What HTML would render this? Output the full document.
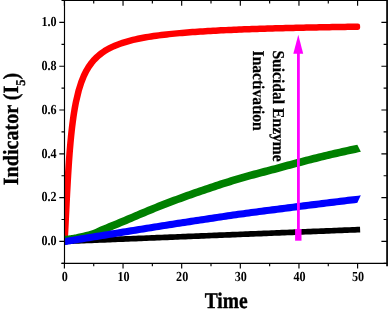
<!DOCTYPE html>
<html><head><meta charset="utf-8"><title>Indicator vs Time</title>
<style>
html,body{margin:0;padding:0;background:#fff;}
svg{display:block;}
text{font-family:"Liberation Serif","Times New Roman",serif;font-weight:bold;fill:#000;text-rendering:geometricPrecision;}
</style></head><body>
<svg width="388" height="315" viewBox="0 0 388 315">
<rect width="388" height="315" fill="#fff"/>
<defs><clipPath id="c"><rect x="64.70" y="0.45" width="322.70" height="262.90"/></clipPath></defs>
<g clip-path="url(#c)" stroke="none">
<path d="M64.29,238.55 L64.59,238.54 L64.89,238.53 L65.19,238.52 L65.49,238.50 L65.79,238.49 L66.09,238.48 L66.39,238.47 L66.69,238.46 L66.99,238.44 L67.29,238.43 L67.59,238.42 L67.89,238.41 L68.20,238.40 L68.50,238.38 L68.80,238.37 L69.10,238.36 L69.40,238.35 L69.70,238.34 L70.00,238.32 L70.30,238.31 L70.60,238.30 L70.90,238.29 L71.20,238.28 L71.50,238.26 L71.80,238.25 L72.10,238.24 L72.41,238.23 L72.71,238.22 L73.01,238.20 L73.31,238.19 L73.61,238.18 L73.91,238.17 L74.21,238.16 L74.51,238.14 L74.81,238.13 L75.11,238.12 L75.41,238.11 L75.71,238.10 L76.01,238.08 L78.62,237.98 L81.23,237.88 L83.83,237.77 L86.44,237.67 L89.04,237.56 L91.65,237.46 L94.25,237.35 L96.86,237.25 L99.46,237.15 L102.07,237.04 L104.67,236.94 L107.28,236.83 L109.88,236.73 L112.49,236.63 L115.10,236.52 L117.70,236.42 L120.31,236.31 L122.91,236.21 L125.52,236.11 L128.12,236.00 L130.73,235.90 L133.33,235.79 L135.94,235.69 L138.54,235.58 L141.15,235.48 L143.76,235.38 L146.36,235.27 L148.97,235.17 L151.57,235.06 L154.18,234.96 L156.78,234.86 L159.39,234.75 L161.99,234.65 L164.60,234.54 L167.20,234.44 L169.81,234.34 L172.42,234.23 L175.02,234.13 L177.63,234.02 L180.23,233.92 L182.84,233.81 L185.44,233.71 L188.05,233.61 L190.65,233.50 L193.26,233.40 L195.86,233.29 L198.47,233.19 L201.08,233.09 L203.68,232.98 L206.29,232.88 L208.89,232.77 L211.50,232.67 L214.10,232.57 L216.71,232.46 L219.31,232.36 L221.92,232.25 L224.52,232.15 L227.13,232.04 L229.74,231.94 L232.34,231.84 L234.95,231.73 L237.55,231.63 L240.16,231.52 L242.76,231.42 L245.37,231.32 L247.97,231.21 L250.58,231.11 L253.18,231.00 L255.79,230.90 L258.40,230.80 L261.00,230.69 L263.61,230.59 L266.21,230.48 L268.82,230.38 L271.42,230.27 L274.03,230.17 L276.63,230.07 L279.24,229.96 L281.84,229.86 L284.45,229.75 L287.06,229.65 L289.66,229.55 L292.27,229.44 L294.87,229.34 L297.48,229.23 L300.08,229.13 L302.69,229.03 L305.29,228.92 L307.90,228.82 L310.50,228.71 L313.11,228.61 L315.72,228.50 L318.32,228.40 L320.93,228.30 L323.53,228.19 L326.14,228.09 L328.74,227.98 L331.35,227.88 L333.95,227.78 L336.56,227.67 L339.16,227.57 L341.77,227.46 L344.38,227.36 L346.98,227.26 L349.59,227.15 L352.19,227.05 L354.80,226.94 L357.40,226.84 L360.01,226.74 L360.24,232.43 L357.63,232.53 L355.02,232.64 L352.42,232.74 L349.81,232.85 L347.21,232.95 L344.60,233.06 L342.00,233.16 L339.39,233.26 L336.79,233.37 L334.18,233.47 L331.58,233.58 L328.97,233.68 L326.36,233.78 L323.76,233.89 L321.15,233.99 L318.55,234.10 L315.94,234.20 L313.34,234.30 L310.73,234.41 L308.13,234.51 L305.52,234.62 L302.92,234.72 L300.31,234.83 L297.70,234.93 L295.10,235.03 L292.49,235.14 L289.89,235.24 L287.28,235.35 L284.68,235.45 L282.07,235.55 L279.47,235.66 L276.86,235.76 L274.26,235.87 L271.65,235.97 L269.04,236.07 L266.44,236.18 L263.83,236.28 L261.23,236.39 L258.62,236.49 L256.02,236.60 L253.41,236.70 L250.81,236.80 L248.20,236.91 L245.60,237.01 L242.99,237.12 L240.38,237.22 L237.78,237.32 L235.17,237.43 L232.57,237.53 L229.96,237.64 L227.36,237.74 L224.75,237.84 L222.15,237.95 L219.54,238.05 L216.94,238.16 L214.33,238.26 L211.72,238.37 L209.12,238.47 L206.51,238.57 L203.91,238.68 L201.30,238.78 L198.70,238.89 L196.09,238.99 L193.49,239.09 L190.88,239.20 L188.28,239.30 L185.67,239.41 L183.07,239.51 L180.46,239.61 L177.85,239.72 L175.25,239.82 L172.64,239.93 L170.04,240.03 L167.43,240.14 L164.83,240.24 L162.22,240.34 L159.62,240.45 L157.01,240.55 L154.41,240.66 L151.80,240.76 L149.19,240.86 L146.59,240.97 L143.98,241.07 L141.38,241.18 L138.77,241.28 L136.17,241.38 L133.56,241.49 L130.96,241.59 L128.35,241.70 L125.75,241.80 L123.14,241.90 L120.53,242.01 L117.93,242.11 L115.32,242.22 L112.72,242.32 L110.11,242.43 L107.51,242.53 L104.90,242.63 L102.30,242.74 L99.69,242.84 L97.09,242.95 L94.48,243.05 L91.87,243.15 L89.27,243.26 L86.66,243.36 L84.06,243.47 L81.45,243.57 L78.85,243.67 L76.24,243.78 L75.94,243.79 L75.64,243.80 L75.34,243.82 L75.04,243.83 L74.74,243.84 L74.44,243.85 L74.14,243.86 L73.84,243.88 L73.54,243.89 L73.23,243.90 L72.93,243.91 L72.63,243.92 L72.33,243.94 L72.03,243.95 L71.73,243.96 L71.43,243.97 L71.13,243.98 L70.83,244.00 L70.53,244.01 L70.23,244.02 L69.93,244.03 L69.63,244.04 L69.33,244.06 L69.02,244.07 L68.72,244.08 L68.42,244.09 L68.12,244.10 L67.82,244.12 L67.52,244.13 L67.22,244.14 L66.92,244.15 L66.62,244.16 L66.32,244.18 L66.02,244.19 L65.72,244.20 L65.42,244.21 L65.12,244.22 L64.81,244.24 L64.51,244.25Z" fill="#000"/>
<path d="M63.35,241.31 L63.65,237.72 L63.95,233.14 L64.25,227.86 L64.55,222.13 L64.85,216.15 L65.16,210.08 L65.46,204.02 L65.76,198.07 L66.06,192.27 L66.36,186.68 L66.66,181.31 L66.96,176.16 L67.26,171.26 L67.56,166.60 L67.86,162.16 L68.16,157.94 L68.47,153.94 L68.77,150.14 L69.07,146.54 L69.37,143.11 L69.67,139.85 L69.97,136.76 L70.27,133.81 L70.57,131.00 L70.87,128.33 L71.18,125.78 L71.48,123.34 L71.78,121.01 L72.08,118.79 L72.38,116.66 L72.68,114.62 L72.99,112.66 L73.29,110.78 L73.59,108.98 L73.89,107.25 L74.19,105.59 L74.50,103.98 L74.80,102.44 L75.11,100.93 L77.70,90.12 L80.31,81.86 L82.93,75.35 L85.55,70.09 L88.18,65.76 L90.81,62.12 L93.45,59.02 L96.09,56.36 L98.73,54.04 L101.37,52.01 L104.00,50.22 L106.63,48.62 L109.26,47.20 L111.88,45.91 L114.50,44.75 L117.12,43.69 L119.73,42.72 L122.34,41.84 L124.95,41.02 L127.56,40.27 L130.16,39.57 L132.76,38.93 L135.37,38.32 L137.97,37.76 L140.56,37.24 L143.16,36.74 L145.76,36.28 L148.35,35.84 L150.95,35.43 L153.54,35.04 L156.14,34.67 L158.73,34.33 L161.32,33.99 L163.91,33.68 L166.50,33.38 L169.10,33.10 L171.69,32.83 L174.28,32.57 L176.87,32.32 L179.46,32.08 L182.05,31.85 L184.63,31.64 L187.22,31.43 L189.81,31.23 L192.40,31.03 L194.99,30.85 L197.58,30.67 L200.17,30.50 L202.75,30.33 L205.34,30.17 L207.93,30.02 L210.52,29.87 L213.10,29.73 L215.69,29.59 L218.28,29.45 L220.87,29.32 L223.45,29.20 L226.04,29.08 L228.63,28.96 L231.21,28.84 L233.80,28.73 L236.39,28.62 L238.98,28.52 L241.56,28.42 L244.15,28.32 L246.74,28.22 L249.32,28.13 L251.91,28.04 L254.49,27.95 L257.08,27.86 L259.67,27.78 L262.25,27.69 L264.84,27.61 L267.43,27.54 L270.01,27.46 L272.60,27.39 L275.19,27.31 L277.77,27.24 L280.36,27.17 L282.94,27.11 L285.53,27.04 L288.12,26.98 L290.70,26.91 L293.29,26.85 L295.87,26.79 L298.46,26.73 L301.05,26.67 L303.63,26.62 L306.22,26.56 L308.80,26.51 L311.39,26.45 L313.98,26.40 L316.56,26.35 L319.15,26.30 L321.73,26.25 L324.32,26.21 L326.91,26.16 L329.49,26.11 L332.08,26.07 L334.66,26.02 L337.25,25.98 L339.84,25.94 L342.42,25.89 L345.01,25.85 L347.59,25.81 L350.18,25.77 L352.77,25.73 L355.35,25.70 L357.94,25.66 L357.97,27.76 L355.38,27.80 L352.80,27.83 L350.21,27.87 L347.63,27.91 L345.04,27.95 L342.46,27.99 L339.87,28.04 L337.29,28.08 L334.70,28.12 L332.11,28.17 L329.53,28.21 L326.94,28.26 L324.36,28.30 L321.77,28.35 L319.19,28.40 L316.60,28.45 L314.02,28.50 L311.43,28.55 L308.85,28.61 L306.26,28.66 L303.68,28.72 L301.09,28.77 L298.51,28.83 L295.92,28.89 L293.34,28.95 L290.75,29.01 L288.17,29.07 L285.58,29.14 L283.00,29.20 L280.41,29.27 L277.83,29.34 L275.24,29.41 L272.66,29.48 L270.07,29.56 L267.49,29.63 L264.90,29.71 L262.32,29.79 L259.74,29.87 L257.15,29.96 L254.57,30.05 L251.98,30.13 L249.40,30.23 L246.81,30.32 L244.23,30.41 L241.64,30.51 L239.06,30.62 L236.47,30.72 L233.89,30.83 L231.31,30.94 L228.72,31.05 L226.14,31.17 L223.55,31.29 L220.97,31.42 L218.39,31.55 L215.80,31.68 L213.22,31.82 L210.64,31.97 L208.05,32.12 L205.47,32.27 L202.89,32.43 L200.30,32.59 L197.72,32.77 L195.14,32.94 L192.55,33.13 L189.97,33.32 L187.39,33.52 L184.81,33.73 L182.22,33.95 L179.64,34.17 L177.06,34.41 L174.48,34.66 L171.90,34.91 L169.32,35.18 L166.74,35.47 L164.16,35.77 L161.58,36.08 L159.00,36.41 L156.42,36.75 L153.85,37.12 L151.27,37.51 L148.69,37.91 L146.12,38.35 L143.54,38.81 L140.97,39.30 L138.40,39.82 L135.82,40.37 L133.25,40.97 L130.69,41.61 L128.12,42.29 L125.56,43.03 L122.99,43.83 L120.43,44.70 L117.88,45.65 L115.32,46.68 L112.77,47.81 L110.22,49.06 L107.68,50.44 L105.14,51.99 L102.60,53.71 L100.07,55.66 L97.53,57.89 L95.00,60.44 L92.47,63.41 L89.93,66.91 L87.39,71.10 L84.84,76.21 L82.29,82.56 L79.73,90.67 L77.15,101.41 L76.86,102.85 L76.56,104.38 L76.26,105.97 L75.96,107.62 L75.66,109.34 L75.36,111.12 L75.06,112.99 L74.76,114.93 L74.46,116.96 L74.16,119.07 L73.86,121.29 L73.56,123.60 L73.26,126.03 L72.96,128.57 L72.66,131.23 L72.36,134.03 L72.06,136.96 L71.76,140.05 L71.46,143.30 L71.16,146.72 L70.86,150.31 L70.56,154.11 L70.26,158.10 L69.96,162.30 L69.66,166.73 L69.36,171.39 L69.06,176.29 L68.76,181.43 L68.46,186.79 L68.15,192.38 L67.85,198.17 L67.55,204.13 L67.25,210.18 L66.95,216.26 L66.65,222.24 L66.35,227.98 L66.05,233.27 L65.75,237.88 L65.45,241.49Z" fill="#f00" stroke="#f00" stroke-width="4.4" stroke-linejoin="round"/>
<path d="M64.20,235.80 L64.50,235.79 L64.78,235.77 L65.06,235.76 L65.35,235.74 L65.63,235.72 L65.91,235.70 L66.20,235.67 L66.48,235.65 L66.77,235.63 L67.05,235.60 L67.34,235.57 L67.62,235.55 L67.91,235.52 L68.19,235.49 L68.48,235.45 L68.77,235.42 L69.05,235.39 L69.34,235.35 L69.63,235.32 L69.91,235.28 L70.20,235.24 L70.49,235.20 L70.77,235.16 L71.06,235.12 L71.35,235.08 L71.64,235.03 L71.93,234.99 L72.22,234.94 L72.50,234.90 L72.79,234.85 L73.08,234.80 L73.37,234.75 L73.66,234.70 L73.95,234.65 L74.24,234.60 L74.53,234.55 L74.82,234.49 L75.11,234.44 L75.37,234.39 L77.91,233.87 L80.44,233.31 L82.98,232.71 L85.53,232.07 L88.06,231.41 L90.49,230.74 L92.87,229.90 L95.32,228.90 L97.85,227.78 L100.45,226.62 L103.10,225.48 L105.72,224.41 L108.30,223.35 L110.88,222.29 L113.47,221.23 L116.05,220.16 L118.63,219.09 L121.21,218.02 L123.79,216.94 L126.37,215.85 L128.95,214.75 L131.54,213.65 L134.12,212.55 L136.71,211.45 L139.30,210.35 L141.90,209.25 L144.49,208.16 L147.09,207.07 L149.69,206.00 L152.29,204.93 L154.90,203.88 L157.50,202.85 L160.11,201.83 L162.70,200.82 L165.30,199.82 L167.90,198.83 L170.49,197.84 L173.09,196.87 L175.69,195.90 L178.28,194.94 L180.88,193.98 L183.48,193.04 L186.07,192.10 L188.67,191.17 L191.27,190.25 L193.87,189.34 L196.46,188.43 L199.06,187.54 L201.66,186.65 L204.25,185.77 L206.84,184.89 L209.44,184.02 L212.04,183.15 L214.63,182.30 L217.23,181.45 L219.83,180.60 L222.43,179.77 L225.02,178.95 L227.62,178.13 L230.22,177.32 L232.82,176.53 L235.43,175.74 L238.03,174.97 L240.63,174.21 L243.24,173.46 L245.85,172.73 L248.45,172.01 L251.05,171.30 L253.65,170.60 L256.24,169.91 L258.83,169.22 L261.43,168.54 L264.01,167.86 L266.60,167.18 L269.18,166.51 L271.77,165.83 L274.35,165.14 L276.92,164.45 L279.50,163.75 L282.07,163.04 L284.66,162.32 L287.27,161.60 L289.87,160.91 L292.46,160.22 L295.05,159.53 L297.64,158.85 L300.24,158.17 L302.83,157.49 L305.42,156.82 L308.01,156.15 L310.61,155.49 L313.20,154.83 L315.80,154.18 L318.39,153.53 L320.99,152.89 L323.59,152.26 L326.19,151.63 L328.79,151.02 L331.38,150.41 L333.98,149.81 L336.58,149.22 L339.18,148.64 L341.78,148.06 L344.37,147.49 L346.96,146.93 L349.55,146.37 L352.14,145.81 L354.73,145.25 L357.32,144.70 L360.87,151.82 L358.26,152.37 L355.66,152.93 L353.06,153.49 L350.46,154.05 L347.86,154.61 L345.26,155.18 L342.66,155.75 L340.06,156.33 L337.47,156.91 L334.88,157.50 L332.28,158.10 L329.69,158.71 L327.10,159.33 L324.50,159.96 L321.91,160.60 L319.31,161.24 L316.72,161.89 L314.12,162.54 L311.52,163.20 L308.92,163.87 L306.33,164.54 L303.73,165.22 L301.13,165.90 L298.53,166.58 L295.92,167.27 L293.32,167.96 L290.73,168.65 L288.14,169.35 L285.55,170.06 L282.94,170.79 L280.32,171.50 L277.70,172.21 L275.09,172.91 L272.48,173.60 L269.87,174.29 L267.26,174.97 L264.66,175.65 L262.06,176.34 L259.46,177.02 L256.86,177.71 L254.26,178.41 L251.67,179.11 L249.08,179.82 L246.49,180.54 L243.90,181.28 L241.32,182.03 L238.73,182.79 L236.14,183.57 L233.55,184.36 L230.96,185.16 L228.37,185.97 L225.77,186.79 L223.18,187.61 L220.59,188.45 L217.99,189.30 L215.40,190.15 L212.80,191.01 L210.20,191.88 L207.61,192.76 L205.01,193.64 L202.41,194.53 L199.82,195.42 L197.22,196.32 L194.63,197.23 L192.03,198.15 L189.44,199.07 L186.84,200.01 L184.25,200.95 L181.65,201.90 L179.06,202.86 L176.46,203.83 L173.87,204.80 L171.27,205.78 L168.68,206.77 L166.08,207.77 L163.49,208.78 L160.89,209.79 L158.31,210.81 L155.72,211.85 L153.13,212.91 L150.54,213.98 L147.95,215.06 L145.35,216.15 L142.75,217.25 L140.15,218.35 L137.55,219.46 L134.94,220.57 L132.34,221.68 L129.73,222.79 L127.12,223.89 L124.50,224.99 L121.89,226.08 L119.28,227.16 L116.67,228.24 L114.06,229.31 L111.45,230.38 L108.84,231.45 L106.27,232.50 L103.72,233.59 L101.14,234.75 L98.48,235.92 L95.74,237.05 L92.92,238.05 L90.16,238.82 L87.50,239.51 L84.86,240.18 L82.20,240.81 L79.53,241.40 L76.89,241.94 L76.54,242.01 L76.23,242.06 L75.92,242.12 L75.61,242.18 L75.30,242.23 L74.99,242.29 L74.67,242.34 L74.36,242.40 L74.05,242.45 L73.74,242.50 L73.42,242.55 L73.11,242.60 L72.80,242.65 L72.49,242.69 L72.17,242.74 L71.86,242.79 L71.54,242.83 L71.23,242.87 L70.92,242.91 L70.60,242.95 L70.29,242.99 L69.97,243.03 L69.66,243.07 L69.34,243.11 L69.03,243.14 L68.71,243.17 L68.39,243.21 L68.08,243.24 L67.76,243.27 L67.45,243.30 L67.13,243.32 L66.81,243.35 L66.49,243.37 L66.18,243.40 L65.86,243.42 L65.54,243.44 L65.22,243.46 L64.91,243.48 L64.60,243.49Z" fill="#008000"/>
<path d="M63.83,238.11 L64.13,238.07 L64.43,238.02 L64.74,237.97 L65.04,237.92 L65.34,237.87 L65.64,237.82 L65.94,237.77 L66.24,237.73 L66.54,237.68 L66.84,237.63 L67.14,237.58 L67.44,237.53 L67.74,237.48 L68.04,237.43 L68.34,237.38 L68.64,237.34 L68.95,237.29 L69.25,237.24 L69.55,237.19 L69.85,237.14 L70.15,237.09 L70.45,237.04 L70.75,237.00 L71.05,236.95 L71.35,236.90 L71.65,236.85 L71.95,236.80 L72.25,236.75 L72.55,236.70 L72.85,236.66 L73.16,236.61 L73.46,236.56 L73.76,236.51 L74.06,236.46 L74.36,236.41 L74.66,236.36 L74.96,236.31 L75.26,236.27 L75.56,236.22 L78.18,235.79 L80.79,235.37 L83.41,234.95 L86.02,234.53 L88.64,234.10 L91.26,233.68 L93.87,233.26 L96.49,232.84 L99.10,232.41 L101.72,231.99 L104.33,231.57 L106.95,231.15 L109.57,230.73 L112.18,230.30 L114.80,229.88 L117.41,229.46 L120.03,229.04 L122.64,228.62 L125.26,228.19 L127.87,227.77 L130.49,227.34 L133.10,226.92 L135.72,226.50 L138.34,226.07 L140.95,225.65 L143.57,225.23 L146.19,224.80 L148.80,224.38 L151.42,223.96 L154.04,223.55 L156.66,223.13 L159.28,222.72 L161.89,222.31 L164.51,221.90 L167.13,221.49 L169.75,221.08 L172.36,220.67 L174.98,220.27 L177.60,219.87 L180.22,219.46 L182.83,219.06 L185.45,218.66 L188.07,218.26 L190.68,217.86 L193.30,217.47 L195.92,217.07 L198.53,216.67 L201.15,216.28 L203.77,215.89 L206.38,215.49 L209.00,215.09 L211.61,214.70 L214.23,214.31 L216.85,213.91 L219.47,213.52 L222.08,213.13 L224.70,212.75 L227.32,212.36 L229.94,211.98 L232.56,211.60 L235.19,211.23 L237.81,210.86 L240.43,210.49 L243.05,210.13 L245.67,209.78 L248.29,209.43 L250.91,209.08 L253.53,208.73 L256.15,208.39 L258.77,208.05 L261.39,207.71 L264.00,207.37 L266.62,207.04 L269.24,206.70 L271.85,206.37 L274.47,206.03 L277.08,205.70 L279.70,205.36 L282.31,205.03 L284.93,204.69 L287.55,204.36 L290.16,204.02 L292.78,203.69 L295.40,203.36 L298.01,203.02 L300.63,202.69 L303.25,202.36 L305.86,202.03 L308.48,201.70 L311.10,201.37 L313.71,201.04 L316.33,200.72 L318.95,200.39 L321.56,200.06 L324.18,199.74 L326.80,199.41 L329.41,199.09 L332.03,198.77 L334.65,198.45 L337.27,198.13 L339.88,197.81 L342.50,197.50 L345.12,197.18 L347.74,196.87 L350.35,196.56 L352.97,196.24 L355.59,195.93 L358.21,195.63 L360.82,195.32 L357.37,202.87 L354.80,203.18 L352.22,203.48 L349.65,203.79 L347.07,204.10 L344.50,204.41 L341.92,204.72 L339.35,205.03 L336.77,205.34 L334.20,205.66 L331.62,205.97 L329.05,206.29 L326.47,206.61 L323.90,206.93 L321.32,207.25 L318.75,207.57 L316.17,207.89 L313.60,208.21 L311.02,208.54 L308.45,208.86 L305.87,209.18 L303.30,209.51 L300.72,209.84 L298.15,210.16 L295.57,210.49 L292.99,210.82 L290.42,211.15 L287.84,211.48 L285.27,211.81 L282.69,212.14 L280.11,212.47 L277.54,212.80 L274.96,213.13 L272.38,213.46 L269.81,213.79 L267.23,214.12 L264.66,214.45 L262.08,214.78 L259.51,215.11 L256.94,215.45 L254.36,215.78 L251.79,216.12 L249.22,216.47 L246.65,216.81 L244.07,217.16 L241.50,217.51 L238.93,217.87 L236.36,218.23 L233.79,218.60 L231.22,218.97 L228.65,219.34 L226.08,219.72 L223.50,220.10 L220.93,220.48 L218.36,220.87 L215.78,221.25 L213.21,221.64 L210.63,222.03 L208.05,222.42 L205.48,222.81 L202.90,223.20 L200.32,223.59 L197.75,223.97 L195.17,224.36 L192.60,224.75 L190.02,225.15 L187.45,225.54 L184.87,225.93 L182.30,226.33 L179.72,226.72 L177.15,227.12 L174.57,227.52 L172.00,227.92 L169.42,228.32 L166.85,228.72 L164.27,229.12 L161.70,229.53 L159.13,229.93 L156.55,230.34 L153.98,230.75 L151.40,231.16 L148.83,231.57 L146.26,231.98 L143.68,232.40 L141.10,232.82 L138.53,233.23 L135.95,233.65 L133.38,234.07 L130.80,234.49 L128.22,234.90 L125.65,235.32 L123.07,235.74 L120.49,236.16 L117.92,236.57 L115.34,236.99 L112.76,237.40 L110.19,237.82 L107.61,238.23 L105.03,238.65 L102.46,239.06 L99.88,239.48 L97.31,239.90 L94.73,240.31 L92.15,240.73 L89.58,241.14 L87.00,241.56 L84.42,241.98 L81.85,242.39 L79.27,242.81 L76.69,243.23 L76.39,243.28 L76.09,243.32 L75.79,243.37 L75.49,243.42 L75.19,243.47 L74.89,243.52 L74.59,243.57 L74.29,243.62 L73.99,243.66 L73.69,243.71 L73.39,243.76 L73.09,243.81 L72.79,243.86 L72.48,243.91 L72.18,243.96 L71.88,244.00 L71.58,244.05 L71.28,244.10 L70.98,244.15 L70.68,244.20 L70.38,244.25 L70.08,244.30 L69.78,244.34 L69.48,244.39 L69.18,244.44 L68.88,244.49 L68.58,244.54 L68.27,244.59 L67.97,244.64 L67.67,244.69 L67.37,244.73 L67.07,244.78 L66.77,244.83 L66.47,244.88 L66.17,244.93 L65.87,244.98 L65.57,245.03 L65.27,245.07 L64.97,245.12Z" fill="#00f"/>
</g>
<g fill="#f0f" stroke="none">
<rect x="297" y="52" width="2.8" height="185"/>
<polygon points="298.3,34.8 293.3,53.8 303.2,53.8"/>
<rect x="295.1" y="229" width="6.4" height="11.7"/>
</g>
<g stroke="#000" stroke-width="1.15" fill="none" stroke-linecap="butt">
<path d="M64.50,0.45 H387.20 M61.50,263.35 H387.20 M64.50,-0.05 V263.85"/>
<path d="M387.10,-0.05 V266.35" stroke-width="1.9" stroke="#111"/>
<path d="M64.40,263.35 v5.2 M64.40,0.45 v5.2"/>
<path d="M93.72,263.35 v3 M93.72,0.45 v3"/>
<path d="M123.04,263.35 v5.2 M123.04,0.45 v5.2"/>
<path d="M152.36,263.35 v3 M152.36,0.45 v3"/>
<path d="M181.68,263.35 v5.2 M181.68,0.45 v5.2"/>
<path d="M211.00,263.35 v3 M211.00,0.45 v3"/>
<path d="M240.32,263.35 v5.2 M240.32,0.45 v5.2"/>
<path d="M269.64,263.35 v3 M269.64,0.45 v3"/>
<path d="M298.96,263.35 v5.2 M298.96,0.45 v5.2"/>
<path d="M328.28,263.35 v3 M328.28,0.45 v3"/>
<path d="M357.60,263.35 v5.2 M357.60,0.45 v5.2"/>
<path d="M64.50,263.30 h-3 M387.20,263.30 h-3.6"/>
<path d="M64.50,241.40 h-5.2 M387.20,241.40 h-5.8"/>
<path d="M64.50,219.50 h-3 M387.20,219.50 h-3.6"/>
<path d="M64.50,197.60 h-5.2 M387.20,197.60 h-5.8"/>
<path d="M64.50,175.70 h-3 M387.20,175.70 h-3.6"/>
<path d="M64.50,153.80 h-5.2 M387.20,153.80 h-5.8"/>
<path d="M64.50,131.90 h-3 M387.20,131.90 h-3.6"/>
<path d="M64.50,110.00 h-5.2 M387.20,110.00 h-5.8"/>
<path d="M64.50,88.10 h-3 M387.20,88.10 h-3.6"/>
<path d="M64.50,66.20 h-5.2 M387.20,66.20 h-5.8"/>
<path d="M64.50,44.30 h-3 M387.20,44.30 h-3.6"/>
<path d="M64.50,22.40 h-5.2 M387.20,22.40 h-5.8"/>
<path d="M64.50,0.50 h-3 M387.20,0.50 h-3.6"/>
</g>
<g font-size="13.8" text-anchor="middle">
<text transform="translate(64.90,280.5) scale(0.88,1)">0</text>
<text transform="translate(123.54,280.5) scale(0.88,1)">10</text>
<text transform="translate(182.18,280.5) scale(0.88,1)">20</text>
<text transform="translate(240.82,280.5) scale(0.88,1)">30</text>
<text transform="translate(299.46,280.5) scale(0.88,1)">40</text>
<text transform="translate(358.10,280.5) scale(0.88,1)">50</text>
</g>
<g font-size="13.8" text-anchor="end">
<text transform="translate(56.6,245.10) scale(0.88,1)">0.0</text>
<text transform="translate(56.6,201.30) scale(0.88,1)">0.2</text>
<text transform="translate(56.6,157.50) scale(0.88,1)">0.4</text>
<text transform="translate(56.6,113.70) scale(0.88,1)">0.6</text>
<text transform="translate(56.6,69.90) scale(0.88,1)">0.8</text>
<text transform="translate(56.6,26.10) scale(0.88,1)">1.0</text>
</g>
<text transform="translate(226.1,308.3) scale(0.87,1)" font-size="22.4" text-anchor="middle" stroke="#000" stroke-width="0.4">Time</text>
<text transform="translate(18.4,129.0) rotate(-90) scale(0.93,1)" font-size="21.6" text-anchor="middle" stroke="#000" stroke-width="0.35">Indicator (I<tspan font-size="13.5" dy="6.8">5</tspan><tspan dy="-6.8">)</tspan></text>
<text transform="translate(272.5,50.4) rotate(90) scale(0.94,1)" font-size="16.6" text-anchor="start" stroke="#000" stroke-width="0.25">Suicidal Enzyme</text>
<text transform="translate(252.5,50.6) rotate(90) scale(0.94,1)" font-size="16.5" text-anchor="start" stroke="#000" stroke-width="0.25">Inactivation</text>
</svg></body></html>
